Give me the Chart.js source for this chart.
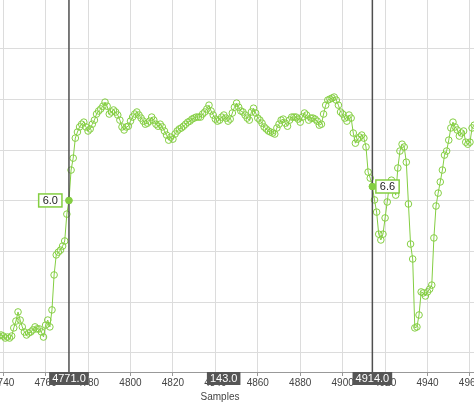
<!DOCTYPE html>
<html>
<head>
<meta charset="utf-8">
<script src="https://cdn.jsdelivr.net/npm/chart.js@4"></script>
<style>
  html, body { margin: 0; padding: 0; background: #fff; }
  #wrap { width: 474px; height: 403px; position: relative; }
</style>
</head>
<body>
<div id="wrap"><canvas id="chartSamples"></canvas></div>
<script>
// sample numbers run from sampleStart, one value per sample
const sampleStart = 4738
const sampleValues = [
  0.67, 0.71, 0.67, 0.59, 0.63, 0.59, 0.67, 0.99, 1.26, 1.62,
  1.30, 1.03, 0.83, 0.71, 0.79, 0.83, 0.91, 1.03, 0.95, 0.95,
  0.83, 0.63, 1.10, 1.30, 1.03, 1.70, 3.08, 3.87, 3.98, 4.06,
  4.22, 4.42, 5.48, 6.02, 7.22, 7.69, 8.48, 8.72, 8.92, 9.03,
  9.11, 8.92, 8.76, 8.84, 9.03, 9.19, 9.43, 9.55, 9.63, 9.74,
  9.90, 9.74, 9.43, 9.51, 9.59, 9.51, 9.39, 9.19, 8.92, 8.80,
  8.92, 8.95, 9.15, 9.31, 9.43, 9.51, 9.39, 9.27, 9.15, 9.03,
  9.07, 9.15, 9.31, 9.19, 9.03, 8.95, 9.03, 8.92, 8.76, 8.60,
  8.40, 8.52, 8.44, 8.64, 8.76, 8.84, 8.88, 8.95, 9.03, 9.11,
  9.15, 9.23, 9.27, 9.31, 9.31, 9.31, 9.43, 9.51, 9.63, 9.78,
  9.55, 9.39, 9.23, 9.15, 9.19, 9.31, 9.39, 9.27, 9.15, 9.23,
  9.47, 9.70, 9.86, 9.70, 9.55, 9.51, 9.39, 9.27, 9.19, 9.51,
  9.66, 9.47, 9.27, 9.19, 9.07, 8.92, 8.84, 8.76, 8.72, 8.68,
  8.64, 8.88, 9.03, 9.19, 9.23, 9.07, 8.95, 9.19, 9.31, 9.31,
  9.31, 9.23, 9.11, 9.31, 9.47, 9.39, 9.19, 9.27, 9.27, 9.23,
  9.15, 8.99, 9.03, 9.43, 9.78, 9.98, 10.02, 10.06, 10.10, 9.98,
  9.78, 9.51, 9.43, 9.27, 9.15, 9.39, 9.27, 8.68, 8.28, 8.44,
  8.52, 8.60, 8.48, 8.13, 7.14, 6.90, 6.57, 6.04, 5.56, 4.69,
  4.46, 4.69, 5.33, 5.96, 6.63, 6.82, 6.51, 6.23, 7.30, 7.97,
  8.24, 8.13, 7.53, 5.88, 4.30, 3.71, 0.99, 1.03, 1.50, 2.41,
  2.37, 2.25, 2.41, 2.52, 2.68, 4.54, 5.80, 6.31, 6.75, 7.22,
  7.81, 7.97, 8.40, 8.88, 9.11, 8.92, 8.80, 8.56, 8.68, 8.76,
  8.32, 8.24, 8.32, 8.88, 8.99
]
const xTicks = [4740, 4760, 4780, 4800, 4820, 4840, 4860, 4880, 4900, 4920, 4940, 4960]
const yGridValues = [0, 2, 4, 6, 8, 10, 12]
const cursorSamples = [4771, 4914]
const xAxisTitle = 'Samples'

// visible window of the zoomed view
const xMin = 4738.5
const xMax = 4961.9
const yMin = -0.75
const yMax = 13.93

const green = 'rgb(132, 206, 66)'
const fontFamily = '"Liberation Sans", Arial, Helvetica, sans-serif'

const points = []
for (var i = 0; i < sampleValues.length; i++) {
  points.push({x: sampleStart + i, y: sampleValues[i]})
}

const cursorPlugin = {
  id: 'cursors',
  afterDatasetsDraw(chart) {
    const {ctx, chartArea, scales} = chart
    ctx.save()
    cursorSamples.forEach((c, idx) => {
      const px = scales.x.getPixelForValue(c)
      ctx.strokeStyle = '#4f4f4f'
      ctx.lineWidth = 1.5
      ctx.beginPath()
      ctx.moveTo(px, chartArea.top)
      ctx.lineTo(px, chartArea.bottom)
      ctx.stroke()

      const v = sampleValues[c - sampleStart]
      const py = scales.y.getPixelForValue(v)
      ctx.fillStyle = green
      ctx.beginPath()
      ctx.arc(px, py, 3.5, 0, Math.PI * 2)
      ctx.fill()

      // value label next to the point
      const text = v.toFixed(1)
      ctx.font = '11px ' + fontFamily
      const w = ctx.measureText(text).width + 8
      const h = 13
      const bx = idx === 0 ? px - 7 - w : px + 3.5
      const by = py - h / 2
      ctx.fillStyle = '#fff'
      ctx.fillRect(bx, by, w, h)
      ctx.strokeStyle = green
      ctx.lineWidth = 1.5
      ctx.strokeRect(bx, by, w, h)
      ctx.fillStyle = '#222'
      ctx.textAlign = 'center'
      ctx.textBaseline = 'middle'
      ctx.fillText(text, bx + w / 2, by + h / 2 + 0.5)
    })
    ctx.restore()
  },
  afterDraw(chart) {
    const {ctx, chartArea, scales} = chart
    ctx.save()
    ctx.font = '11px ' + fontFamily
    ctx.textAlign = 'center'
    ctx.textBaseline = 'middle'
    const pxs = cursorSamples.map(c => scales.x.getPixelForValue(c))
    const tags = [
      {x: pxs[0], text: cursorSamples[0].toFixed(1)},
      {x: (pxs[0] + pxs[1]) / 2 + 3, text: (cursorSamples[1] - cursorSamples[0]).toFixed(1)},
      {x: pxs[1], text: cursorSamples[1].toFixed(1)}
    ]
    tags.forEach(t => {
      const w = ctx.measureText(t.text).width + 6
      const h = 13
      ctx.fillStyle = '#555'
      ctx.fillRect(t.x - w / 2, chartArea.bottom, w, h)
      ctx.fillStyle = '#fff'
      ctx.fillText(t.text, t.x, chartArea.bottom + h / 2 + 0.5)
    })

    // axis title (the view is a crop, so it sits left of the visible centre)
    ctx.font = '10px ' + fontFamily
    ctx.fillStyle = '#444'
    ctx.fillText(xAxisTitle, (chartArea.left + chartArea.right) / 2 - 17, chart.height - 6)
    ctx.restore()
  }
}

new Chart(document.getElementById('chartSamples'), {
  type: 'line',
  data: {
    datasets: [{
      data: points,
      borderColor: green,
      borderWidth: 1,
      pointRadius: 3.3,
      pointBorderWidth: 1,
      pointBorderColor: green,
      pointBackgroundColor: 'rgba(255,255,255,0)',
      tension: 0
    }]
  },
  options: {
    responsive: true,
    maintainAspectRatio: false,
    animation: false,
    layout: {
      autoPadding: false,
      padding: {left: 0, right: 0, top: 0, bottom: 13}
    },
    plugins: {
      legend: {display: false},
      tooltip: {enabled: false}
    },
    scales: {
      x: {
        type: 'linear',
        min: xMin,
        max: xMax,
        afterBuildTicks: scale => { scale.ticks = xTicks.map(v => ({value: v})) },
        // the view is cropped: let edge labels run off the canvas
        afterFit: scale => { scale.paddingLeft = 0; scale.paddingRight = 0 },
        grid: {color: '#dcdcdc', lineWidth: 1, tickLength: 4, tickColor: '#999'},
        border: {color: '#999'},
        ticks: {
          color: '#444',
          padding: 1,
          maxRotation: 0,
          autoSkip: false,
          font: {size: 10, family: fontFamily},
          callback: v => v
        }
      },
      y: {
        type: 'linear',
        min: yMin,
        max: yMax,
        afterBuildTicks: scale => { scale.ticks = yGridValues.map(v => ({value: v})) },
        afterFit: scale => { scale.width = 0; scale.paddingTop = 0; scale.paddingBottom = 0 },
        grid: {color: '#dcdcdc', lineWidth: 1, drawTicks: false},
        border: {display: false},
        ticks: {display: false}
      }
    }
  },
  plugins: [cursorPlugin]
})
</script>
</body>
</html>
